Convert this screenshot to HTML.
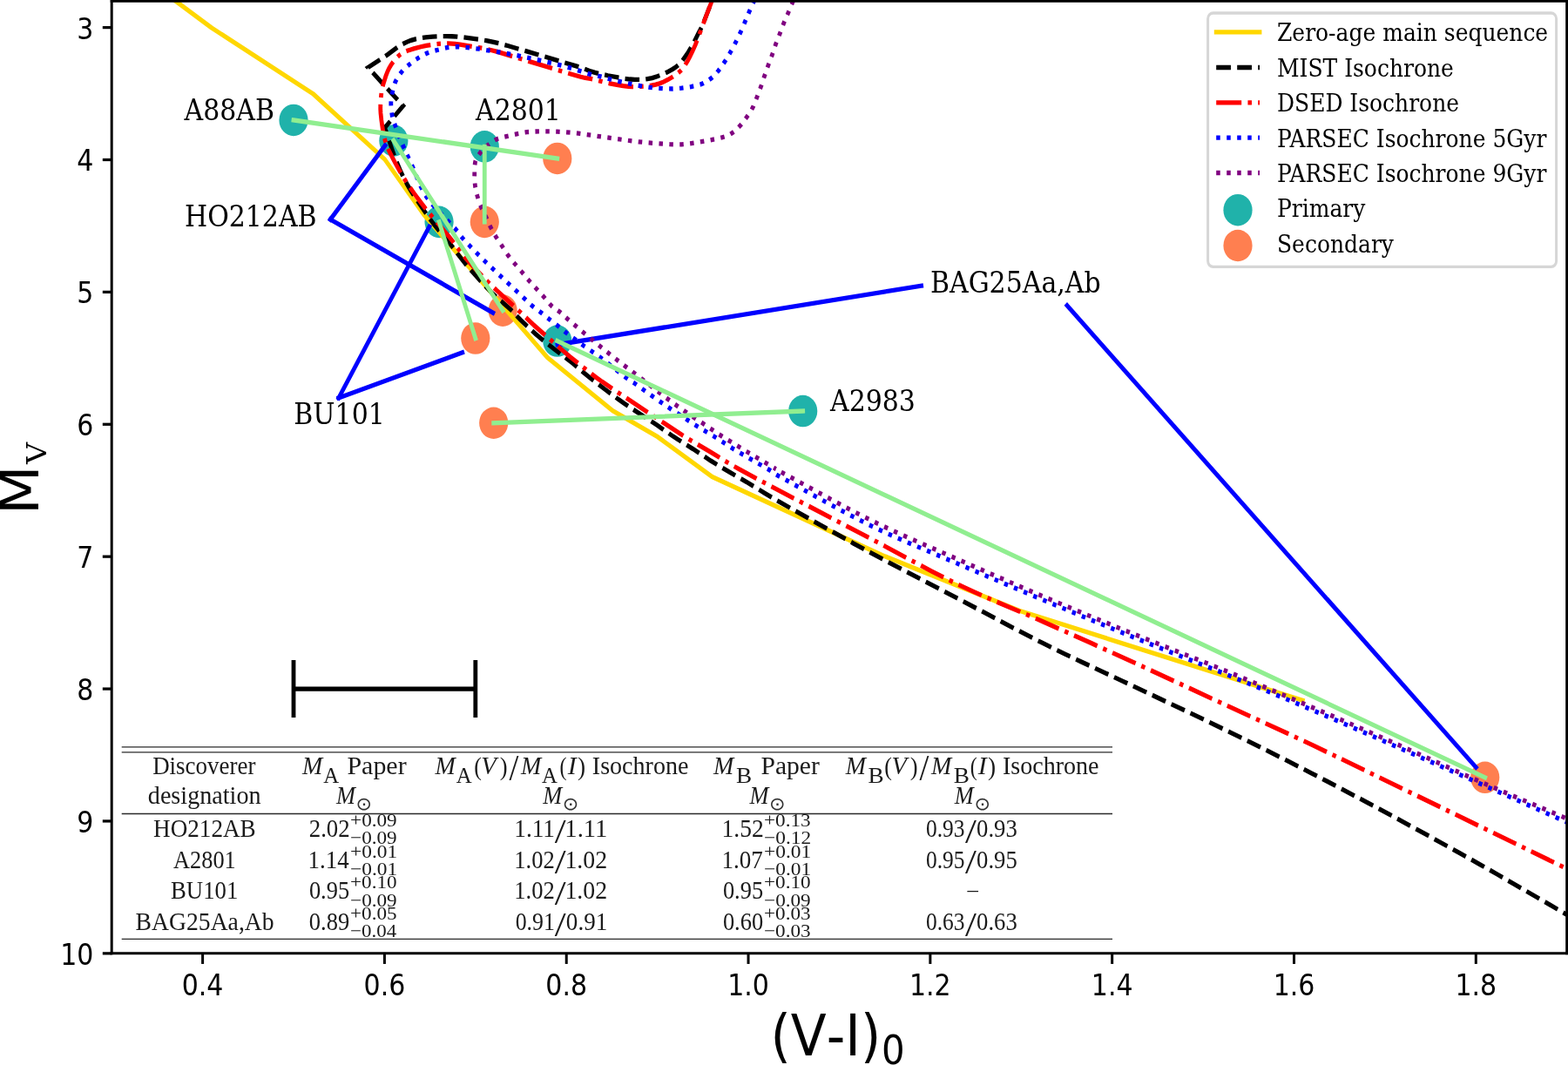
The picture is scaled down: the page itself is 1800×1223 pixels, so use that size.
<!DOCTYPE html>
<html lang="en"><head><meta charset="utf-8"><title>Colour-magnitude diagram</title>
<style>
html,body{margin:0;padding:0;background:#fff;}
body{width:1800px;height:1223px;overflow:hidden;}
svg{display:block;}
.tk{font-family:"DejaVu Sans","Liberation Sans",sans-serif;font-size:30px;fill:#000;}
.ax{font-family:"DejaVu Sans","Liberation Sans",sans-serif;fill:#000;}
.an{font-family:"DejaVu Serif","Liberation Serif",serif;font-size:30px;fill:#000;}
.lg{font-family:"DejaVu Serif","Liberation Serif",serif;font-size:25px;fill:#000;}
.tb{font-family:"Liberation Serif","DejaVu Serif",serif;fill:#1a1a1a;}
.tbs{font-family:"DejaVu Sans","Liberation Sans",sans-serif;fill:#333;}
.tbi{font-style:italic;}
</style></head><body>
<svg width="1800" height="1223" viewBox="0 0 1800 1223">
<rect width="1800" height="1223" fill="#fff"/>
<defs><clipPath id="axclip"><rect x="128.2" y="1.09" width="1670.5" height="994.23"/></clipPath></defs>
<g transform="scale(1,1.1)">

<g clip-path="url(#axclip)">
<circle cx="337.01" cy="125.37" r="16.6" fill="#20b2aa"/>
<circle cx="451.86" cy="146.77" r="16.6" fill="#20b2aa"/>
<circle cx="556.27" cy="152.99" r="16.6" fill="#20b2aa"/>
<circle cx="504.06" cy="231.7" r="16.6" fill="#20b2aa"/>
<circle cx="639.79" cy="355.97" r="16.6" fill="#20b2aa"/>
<circle cx="921.69" cy="429.16" r="16.6" fill="#20b2aa"/>
<circle cx="639.79" cy="165.41" r="16.6" fill="#ff7f50"/>
<circle cx="556.27" cy="231.7" r="16.6" fill="#ff7f50"/>
<circle cx="577.15" cy="324.21" r="16.6" fill="#ff7f50"/>
<circle cx="545.82" cy="353.21" r="16.6" fill="#ff7f50"/>
<circle cx="566.71" cy="441.59" r="16.6" fill="#ff7f50"/>
<circle cx="1704.73" cy="811.66" r="16.6" fill="#ff7f50"/>
<path d="M128,-50 L200,0 L243,29.09 L359,97.64 L441.7,166.36 L486.7,224.27 L628.5,373.27 L703.3,428.82 L755,456.09 L817.5,497.73 L1012.5,579.55 L1170,637.55 L1495.3,731.18" fill="none" stroke="#ffd700" stroke-width="4.8" stroke-linejoin="round" stroke-linecap="square"/>
</g>
<path d="M379.3,229.09 L442.09,151.86" stroke="#0000ff" stroke-width="4.8" stroke-linecap="square" fill="none"/>
<path d="M379.3,229.09 L565.87,326.53" stroke="#0000ff" stroke-width="4.8" stroke-linecap="square" fill="none"/>
<path d="M388.8,415.45 L492.79,236.62" stroke="#0000ff" stroke-width="4.8" stroke-linecap="square" fill="none"/>
<path d="M388.8,415.45 L530.72,368.03" stroke="#0000ff" stroke-width="4.8" stroke-linecap="square" fill="none"/>
<path d="M1057.63,298.35 L639.97,359.83" stroke="#0000ff" stroke-width="4.8" stroke-linecap="square" fill="none"/>
<path d="M1224.97,318.9 L1694.33,801.01" stroke="#0000ff" stroke-width="4.8" stroke-linecap="square" fill="none"/>
<g clip-path="url(#axclip)">
<g fill="none" stroke="#000" stroke-width="4.8" stroke-linejoin="miter">
<path d="M1820,965.91 L1795.59,953.23 L1718.78,912.73 L1700,903 L1675.23,890.34 L1641.24,873.2 L1607.15,856.25 L1569.64,837.86 L1536.6,821.89" stroke-dasharray="16.61 7.18" stroke-dashoffset="11.64"/>
<path d="M1536.6,821.89 L1505.36,807.06 L1476.36,793.57 L1445.45,779.44 L1410.91,763.94 L1387.27,753.48 L1361.82,742.44 L1289.09,711.22 L1241.82,691.11 L1223.64,683.25 L1209.09,676.82 L1196.43,671.1 L1182.14,664.48 L1166.07,656.87 L1103.57,626.71 L1039.29,596.23 L1012.5,583.38 L979.85,567.28 L938.1,546.2 L908.14,530.84 L889.62,521.19 L877.48,514.61 L856.7,503 L838.33,493.33 L828.61,488.08 L815.6,480.82 L795.6,468.73 L785.13,462.75" stroke-dasharray="16.62 7.19" stroke-dashoffset="20.22"/>
<path d="M785.13,462.75 L777.61,458.45 L772.76,455.55 L754.4,443.91 L725.08,426.41 L716.5,421.12 L709.9,416.88 L694.55,406.51 L676.7,393.91 L669.13,388.31 L657.52,379.3 L652.9,375.97 L646.02,371.23" stroke-dasharray="16.62 7.19" stroke-dashoffset="20.22"/>
<path d="M646.02,371.23 L636.2,364.45 L622.63,354.64 L615.25,348.95 L607.48,342.56 L597.48,333.86 L589.85,326.46 L586.7,323.64 L582.54,320.22 L569.67,310.06 L563.73,304.9 L555.44,297.04 L541,282.53 L535.86,277.09 L532.02,272.83 L528.19,268.33 L519.26,257.52 L515.41,253.09 L501.17,237.71 L496.27,231.96 L491.77,226.39 L478.73,209.06 L475.05,203.99 L471.51,198.88 L468.3,193.91 L465.31,188.9 L462.61,184.05 L460.08,179.12 L455.88,170.16 L452.76,162.83 L448.72,152.38 L441.7,133.36 L462.8,110.55 L422.5,70.45 L441.7,59.09 L444.89,57.04 L454.88,50.25 L458.26,48.13 L461.63,46.26 L466.8,43.95 L471.83,42.15 L477.02,40.77 L481.45,39.92" stroke-dasharray="16.53 7.15" stroke-dashoffset="20.09"/>
<path d="M481.45,39.92 L488.53,38.93 L496.45,38.31 L506.95,37.93 L512.99,37.88 L518.84,37.96 L524.89,38.29 L530.55,38.82 L550.94,41.3 L558.4,42.37 L566.7,43.91 L573.54,45.44 L582.83,47.76 L603.7,53.25 L662.3,69.2 L669.27,71.24 L678.07,74.46 L683.09,75.77 L688.28,76.95 L697.8,78.85 L709.31,80.84 L717.3,82.06 L723.1,82.73 L728.71,83.09 L734.41,83.12 L739.76,82.8 L743.23,82.39 L748.62,81.41 L754.38,79.81 L759.93,77.82 L766.94,74.86 L772.27,72.14 L775.44,70.21 L776.91,69.21 L779.76,66.99 L781.06,65.78 L783.36,63.28 L788.82,56.28 L790.96,53.24 L794.04,48.54 L797.08,43.44 L801.7,34.82 L804.73,29.71 L805.6,28.04 L808.01,22.81 L812.11,13.23 L817.62,0.04 L822,-10.91" stroke-dasharray="16.61 7.18" stroke-dashoffset="20.2"/>
</g>
<g fill="none" stroke="#ff0000" stroke-width="4.8" stroke-linejoin="miter">
<path d="M822,-10.91 L816.7,2.27 L810,18.18 L804.04,33.03 L800.46,41.67 L798.29,46.65 L794.95,53.48 L792.13,58.8 L789.24,63.73 L786.17,68.38 L784.14,71.07 L782.98,72.35 L781.63,73.64 L780,75 L777.2,77.05 L772.17,80.24 L766.77,83.19 L761.49,85.57 L758.01,86.85 L756.29,87.39 L752.73,88.3 L746.7,89.36 L739.4,90.15 L731.34,90.55 L725.27,90.53 L721.34,90.33 L715.4,89.71 L709.47,88.8 L700,87.09 L694.13,85.88 L680,82.55 L677.92,82.16 L671.77,81.35 L666.7,80.27 L655.17,77.23 L571.77,54.25 L564.5,52.5 L558.4,51.22 L552.76,50.19 L545.25,48.99" stroke-dasharray="28.74 7.18 4.49 7.18" stroke-dashoffset="37.7"/>
<path d="M545.25,48.99 L528.13,46.45 L522.36,45.8 L518.57,45.53 L514.69,45.41 L508.78,45.49 L502.96,45.86 L497.18,46.47 L489.29,47.65 L483.04,48.89 L475.06,50.81 L471.56,51.79 L467.63,53.04 L463.8,54.47 L462.17,55.24 L460.63,56.11 L459.1,57.13 L457.5,58.36 L454.91,60.68 L453.62,61.99 L451.13,64.85 L448.79,67.94 L446.7,71.18 L445.03,74.35 L442.83,79.59 L440.48,86.41 L438.92,91.52 L438.21,94.64 L437.95,96.24 L437.19,103.1 L436.8,108.14 L436.74,113.87 L437,118.18 L437.86,125.58 L439.16,133.93 L440.79,141.96 L442.35,147.61 L443.71,151.39 L444.44,153.09 L446.02,156.36 L450.81,165.09 L453.52,169.79 L458.68,178.24 L462.95,184.86 L467.31,191.21 L470.77,195.9 L475.38,201.82 L481.23,209.06 L488.28,217.41 L497.43,227.67 L511.48,242.71 L516.7,248.45 L520.88,253.32 L529.57,263.92 L534.68,269.68 L541.54,276.69 L552.71,287.39 L561.06,295.11 L569.68,302.74 L589.8,319.45 L606.7,334 L611.69,338.4 L614.8,341 L646.84,366.63 L654.27,372.36 L683.76,393.61 L691.23,398.51 L704.9,406.99 L753.04,436.15 L783.76,454.48 L794.53,460.59 L815.33,471.68 L834.4,482.36 L841.85,486.34 L848.31,489.66 L875.18,502.87 L912.95,521.02 L1005.36,565.11 L1051.79,587.78 L1069.64,596.37 L1082.14,602.23 L1094.64,607.91 L1105.56,612.68 L1118.52,618.1 L1138.89,626.25 L1179.63,641.96 L1198.15,649.26 L1252.73,671.42 L1307.27,693.93 L1401.82,733.76 L1480,766.48 L1507.27,778.13 L1536.76,790.99" stroke-dasharray="28.75 7.19 4.49 7.19" stroke-dashoffset="44.02"/>
<path d="M1536.76,790.99 L1634.81,834.29 L1820,916.36" stroke-dasharray="28.74 7.18 4.49 7.18" stroke-dashoffset="44"/>
</g>
<g fill="none" stroke="#0000ff" stroke-width="4.8" stroke-linejoin="miter">
<path d="M871,-10.91 L865.72,0.73 L860.5,11.36 L852,29.85 L847.56,38.66 L842.76,47.33 L837.78,55.56 L832.99,62.94 L828.46,69.23 L824.7,73.82 L820.7,78.05 L817.83,80.63 L816.3,81.82 L812.97,84.01 L811.2,85.02 L807.59,86.8 L804.04,88.17 L800.53,89.11 L793.3,90.49 L787.95,91.34 L782.5,92 L776.11,92.62 L772.35,92.74 L763.04,92.52 L752.79,91.93 L746.7,91.36 L738.9,90.32 L729.15,88.64 L717.2,86.33 L700,82.55 L688.3,79.55 L679.32,77.91 L673.75,76.46 L657.01,71.46 L649.39,69.48 L641.54,67.68 L624.54,63.99 L610.22,61.01 L590.92,57.4 L575.18,54.82 L550,51.09 L530.94,49.15" stroke-dasharray="4.49 7.41" stroke-dashoffset="0.59"/>
<path d="M530.94,49.15 L526.93,48.86 L523.05,48.85 L519.14,49.06 L513.3,49.73 L507.45,50.87 L496.2,53.6 L492.6,54.63 L489.24,55.91 L486.08,57.37 L481.46,59.82 L476.81,62.53 L473.8,64.49 L469.26,67.78 L466.14,70.17 L463.12,72.81 L460.51,75.62 L458.17,78.55 L456.02,81.66 L454.2,84.82 L453.34,86.66 L451.99,90.45 L450.96,94.28 L450.07,98.07 L449.34,101.81 L448.89,105.6 L448.8,107.55 L448.87,111.01 L449.19,114.58 L450,119.73 L450.76,123.02 L451.74,126.14 L455.84,136.61 L460.8,148.03 L465.4,157.73 L474.04,174.96 L479.94,188.32 L482.47,193.68 L485.36,199.07 L487.55,202.61 L490,206.09 L493.64,210.51 L497.96,215.16 L502.7,219.89 L518.09,234.33 L522.5,238.64 L526.37,242.9 L529.34,246.89 L532.98,250.66 L544.05,261.24 L555.72,271.89 L572.18,286.27 L610.54,319.02 L613.36,321.14 L621.2,326.36 L630.9,333.45 L635.45,336.65" stroke-dasharray="4.48 7.4" stroke-dashoffset="8.18"/>
<path d="M635.45,336.65 L640.3,340.09 L648.08,346.08 L655.84,351.48 L669.8,360.82 L684.24,369.88 L691.32,374.62 L718.9,394.45 L723.34,397.32 L727.06,399.3 L729.1,400.55 L747.21,412.54 L763.83,423.15" stroke-dasharray="4.5 7.42" stroke-dashoffset="8.21"/>
<path d="M763.83,423.15 L780.43,433.24 L796.36,442.69 L804.94,447.58 L820.6,456.09 L841.1,468.18 L853.08,474.7 L882.8,490.36 L885.16,491.76 L886.47,492.82 L887.35,493.39 L891.32,495.58 L938.98,519.65 L966.99,533.48 L979.07,539.28 L990.77,544.74 L1000,548.91 L1011.11,553.73 L1027.78,560.64 L1046.3,567.98 L1090.74,585.04 L1155.56,610.24 L1198.15,626.57 L1248.15,645.49 L1294.44,662.76 L1320.37,672.28 L1392.59,698.45 L1433.33,713.54 L1464.81,725.32 L1494.44,736.59 L1520.37,746.64 L1550,758.34 L1594.59,776.12" stroke-dasharray="4.49 7.41" stroke-dashoffset="8.2"/>
<path d="M1594.59,776.12 L1651.96,799.1 L1798.3,858.18 L1820,866.82" stroke-dasharray="4.49 7.41" stroke-dashoffset="8.19"/>
</g>
<g fill="none" stroke="#800080" stroke-width="4.8" stroke-linejoin="miter">
<path d="M916,-10.91 L904.7,13.64 L900.52,22.46 L899.01,25.87 L895,35.64 L890.5,46.18 L886.3,57.55 L880.98,70.46 L877.5,79.55 L873.92,89.31 L871.84,94.57 L866.76,106.66 L864.59,111.43 L862.84,114.54 L859.76,119.04 L855.05,125.09 L851.08,129.67 L846.89,133.83 L843.95,136.4 L842.41,137.57 L840.8,138.64 L837.8,140.37 L834.6,141.78 L832.55,142.46 L828.5,143.57 L821.22,145.15 L810.78,147.06 L797.42,149.16 L789.91,150.13 L782.5,150.73 L776.63,150.83 L768.93,150.57 L753.66,149.67 L742.41,148.84 L733.03,147.99 L725.23,147.12 L707.67,144.95 L665.84,139.52 L655.34,138.36 L647.61,137.78 L639.82,137.37 L632.07,137.14 L622.64,137.08" stroke-dasharray="4.49 7.41" stroke-dashoffset="11.14"/>
<path d="M622.64,137.08 L612.64,137.32 L606.91,137.72 L603.07,138.14 L599.08,138.74 L593.08,139.84 L576.31,143.45 L573.1,144.32 L571.57,144.84 L568.17,146.3 L564.74,148.24 L560,151.55 L557.02,153.9 L554.23,156.41 L552.92,157.73 L550.52,160.46 L548.3,163.21 L547.32,164.7 L546.48,166.34 L545.8,168.18 L545.42,169.75 L544.96,173.35 L544.78,177.2 L544.68,184.52 L544.88,189.7 L545.61,195.06 L546.41,198.93 L548,204.82 L549.12,208.22 L551.07,213.34 L553.27,218.22 L558.3,227.27 L562.42,235.8 L565.16,240.67 L569.2,247 L576.3,256.82 L581.23,263.88 L583.3,266.64 L585.52,269.31 L588.99,273.2 L599.2,284.09 L607.2,292.91 L612.1,297.88 L624.2,309.82 L629.11,315.27 L631.62,317.91 L632.9,319.09 L634.43,320.31 L642.3,325.45 L645.31,327.84 L651.3,332.82 L655.99,336.46" stroke-dasharray="4.49 7.4" stroke-dashoffset="8.18"/>
<path d="M655.99,336.46 L671.38,348.43 L703.55,372.36 L762.47,413.72 L772.29,420.43 L781.68,426.62" stroke-dasharray="4.49 7.41" stroke-dashoffset="8.2"/>
<path d="M781.68,426.62 L790.03,431.89 L806.7,441.91 L824.04,452.65 L830.62,456.54 L859.17,472.48 L889.4,488.91 L890.7,489.64 L889.73,489.28 L890.21,489.54 L905.62,497.15 L948.41,518.54 L972.9,530.52 L984.93,536.24 L996.37,541.54 L1007.27,546.41 L1018.18,551.12 L1032.73,557.21 L1047.27,563.12 L1092.73,581.18 L1133.33,597.44 L1170.37,612.09 L1203.7,625.07 L1246.3,641.3 L1294.44,659.3 L1320.37,668.83 L1387.04,692.93 L1407.41,700.49 L1433.33,710.27 L1474.07,725.87 L1518.52,743.13 L1559.26,759.18 L1601.16,775.92" stroke-dasharray="4.5 7.43" stroke-dashoffset="8.23"/>
<path d="M1601.16,775.92 L1623.71,785.1 L1676.59,806.9 L1701.9,817.12 L1732.4,829.07 L1793.01,852.39 L1820,862.91" stroke-dasharray="4.49 7.41" stroke-dashoffset="8.19"/>
</g>
<path d="M337.01,719.14 L545.82,719.14 M337.01,689.14 L337.01,749.14 M545.82,689.14 L545.82,749.14" stroke="#000" stroke-width="4.8" fill="none"/>
<path d="M337.01,125.37 L639.79,165.41" stroke="#90ee90" stroke-width="4.8" stroke-linecap="square" fill="none"/>
<path d="M556.27,152.99 L556.27,231.7" stroke="#90ee90" stroke-width="4.8" stroke-linecap="square" fill="none"/>
<path d="M451.86,146.77 L577.15,324.21" stroke="#90ee90" stroke-width="4.8" stroke-linecap="square" fill="none"/>
<path d="M504.06,231.7 L545.82,353.21" stroke="#90ee90" stroke-width="4.8" stroke-linecap="square" fill="none"/>
<path d="M639.79,355.97 L1704.73,811.66" stroke="#90ee90" stroke-width="4.8" stroke-linecap="square" fill="none"/>
<path d="M921.69,429.16 L566.71,441.59" stroke="#90ee90" stroke-width="4.8" stroke-linecap="square" fill="none"/>
</g>
<path d="M128.2,-0.27 V996.68 M1798.7,-0.27 V996.68" stroke="#000" stroke-width="3.0" fill="none"/>
<path d="M126.7,1.09 H1800.2 M126.7,995.32 H1800.2" stroke="#000" stroke-width="2.73" fill="none"/>
<path d="M232.61,995.32 v11.0" stroke="#000" stroke-width="3"/>
<text class="tk" x="232.61" y="1039.36" text-anchor="middle">0.4</text>
<path d="M441.42,995.32 v11.0" stroke="#000" stroke-width="3"/>
<text class="tk" x="441.42" y="1039.36" text-anchor="middle">0.6</text>
<path d="M650.23,995.32 v11.0" stroke="#000" stroke-width="3"/>
<text class="tk" x="650.23" y="1039.36" text-anchor="middle">0.8</text>
<path d="M859.04,995.32 v11.0" stroke="#000" stroke-width="3"/>
<text class="tk" x="859.04" y="1039.36" text-anchor="middle">1.0</text>
<path d="M1067.86,995.32 v11.0" stroke="#000" stroke-width="3"/>
<text class="tk" x="1067.86" y="1039.36" text-anchor="middle">1.2</text>
<path d="M1276.67,995.32 v11.0" stroke="#000" stroke-width="3"/>
<text class="tk" x="1276.67" y="1039.36" text-anchor="middle">1.4</text>
<path d="M1485.48,995.32 v11.0" stroke="#000" stroke-width="3"/>
<text class="tk" x="1485.48" y="1039.36" text-anchor="middle">1.6</text>
<path d="M1694.29,995.32 v11.0" stroke="#000" stroke-width="3"/>
<text class="tk" x="1694.29" y="1039.36" text-anchor="middle">1.8</text>
<path d="M128.2,28.71 h-10.4" stroke="#000" stroke-width="2.95"/>
<text class="tk" x="107.4" y="40.51" text-anchor="end">3</text>
<path d="M128.2,166.8 h-10.4" stroke="#000" stroke-width="2.95"/>
<text class="tk" x="107.4" y="178.6" text-anchor="end">4</text>
<path d="M128.2,304.88 h-10.4" stroke="#000" stroke-width="2.95"/>
<text class="tk" x="107.4" y="316.68" text-anchor="end">5</text>
<path d="M128.2,442.97 h-10.4" stroke="#000" stroke-width="2.95"/>
<text class="tk" x="107.4" y="454.77" text-anchor="end">6</text>
<path d="M128.2,581.06 h-10.4" stroke="#000" stroke-width="2.95"/>
<text class="tk" x="107.4" y="592.86" text-anchor="end">7</text>
<path d="M128.2,719.14 h-10.4" stroke="#000" stroke-width="2.95"/>
<text class="tk" x="107.4" y="730.94" text-anchor="end">8</text>
<path d="M128.2,857.23 h-10.4" stroke="#000" stroke-width="2.95"/>
<text class="tk" x="107.4" y="869.03" text-anchor="end">9</text>
<path d="M128.2,995.32 h-10.4" stroke="#000" stroke-width="2.95"/>
<text class="tk" x="107.4" y="1007.12" text-anchor="end">10</text>
<text class="ax" x="884.5" y="1101.59" font-size="59.8" style="font-kerning:none">(V-I)<tspan font-size="41.9" dx="0.6" dy="9.3">0</tspan></text>
<text class="ax" transform="translate(43.9,537.55) rotate(-90)" font-size="60">M</text>
<text class="an" transform="translate(53.2,484.64) rotate(-90)" style="font-size:31.5px">V</text>
<text class="an" x="211.5" y="125.18">A88AB</text>
<text class="an" x="546" y="125.45">A2801</text>
<text class="an" x="212" y="236">HO212AB</text>
<text class="an" x="337.3" y="443.09">BU101</text>
<text class="an" x="1068" y="305.09">BAG25Aa,Ab</text>
<text class="an" x="953.0" y="428.91">A2983</text>
<rect x="1386.6" y="13.64" width="400" height="264.91" rx="6" ry="6" fill="#fff" fill-opacity="0.8" stroke="#cccccc" stroke-opacity="0.8" stroke-width="3"/>
<path d="M1396.2,33.55 L1446.0,33.55" stroke="#ffd700" stroke-width="4.8" fill="none" stroke-linecap="square"/>
<path d="M1396.2,70.45 L1446.0,70.45" stroke="#000" stroke-width="4.8" fill="none" stroke-dasharray="16.76 7.25"/>
<path d="M1396.2,107.18 L1446.0,107.18" stroke="#ff0000" stroke-width="4.8" fill="none" stroke-dasharray="28.99 7.25 4.53 7.25"/>
<path d="M1396.2,143.82 L1446.0,143.82" stroke="#0000ff" stroke-width="4.8" fill="none" stroke-dasharray="4.53 7.47"/>
<path d="M1396.2,180.45 L1446.0,180.45" stroke="#800080" stroke-width="4.8" fill="none" stroke-dasharray="4.53 7.47"/>
<circle cx="1421" cy="219.27" r="16.6" fill="#20b2aa"/>
<circle cx="1421" cy="256.36" r="16.6" fill="#ff7f50"/>
<text class="lg" x="1466" y="43.09">Zero-age main sequence</text>
<text class="lg" x="1466" y="79.82">MIST Isochrone</text>
<text class="lg" x="1466" y="116.55">DSED Isochrone</text>
<text class="lg" x="1466" y="153.45">PARSEC Isochrone 5Gyr</text>
<text class="lg" x="1466" y="190.18">PARSEC Isochrone 9Gyr</text>
<text class="lg" x="1466" y="226.27">Primary</text>
<text class="lg" x="1466" y="263.55">Secondary</text>
</g>
<path d="M139.7,857.9 H1277" stroke="#2a2a2a" stroke-width="1.3" fill="none"/>
<path d="M139.7,863.9 H1277" stroke="#2a2a2a" stroke-width="1.3" fill="none"/>
<path d="M139.7,934.5 H1277" stroke="#2a2a2a" stroke-width="1.3" fill="none"/>
<path d="M139.7,1078.4 H1277" stroke="#2a2a2a" stroke-width="1.3" fill="none"/>
<text class="tb" font-size="26.5" transform="translate(175.13,889.2) scale(1.0184,1.1000)">Discoverer</text>
<text class="tb" font-size="26.5" transform="translate(169.81,923.3) scale(1.0625,1.1000)">designation</text>
<text class="tb" font-size="26.5" transform="translate(176.02,960.9) scale(1.0254,1.1000)">HO212AB</text>
<text class="tb" font-size="26.5" transform="translate(199.07,996.7) scale(0.9941,1.1000)">A2801</text>
<text class="tb" font-size="26.5" transform="translate(196.03,1032.3) scale(1.0093,1.1000)">BU101</text>
<text class="tb" font-size="26.5" transform="translate(155.61,1068) scale(1.0440,1.1000)">BAG25Aa,Ab</text>
<text class="tb tbi" font-size="26.5" transform="translate(347.12,889.2) scale(1.0541,1.1000)">M</text>
<text class="tb" font-size="22.5" transform="translate(371.18,899.2) scale(1.1017,1.1000)">A</text>
<text class="tb" font-size="26.5" transform="translate(398.45,889.2) scale(1.1301,1.1000)">Paper</text>
<text class="tb tbi" font-size="26.5" transform="translate(386,923.3) scale(0.9950,1.1000)">M</text>
<text class="tb tbs" font-size="19" transform="translate(408.61,929.89) scale(1.1643,1.0845)">⊙</text>
<text class="tb tbi" font-size="26.5" transform="translate(819.12,889.2) scale(1.0541,1.1000)">M</text>
<text class="tb" font-size="22.5" transform="translate(844.92,899.2) scale(1.2101,1.1000)">B</text>
<text class="tb" font-size="26.5" transform="translate(873.46,889.2) scale(1.1167,1.1000)">Paper</text>
<text class="tb tbi" font-size="26.5" transform="translate(860.4,923.3) scale(0.9950,1.1000)">M</text>
<text class="tb tbs" font-size="19" transform="translate(883.01,929.89) scale(1.1643,1.0845)">⊙</text>
<text class="tb tbi" font-size="26.5" transform="translate(499.62,889.2) scale(1.0541,1.1000)">M</text>
<text class="tb" font-size="22.5" transform="translate(523.68,899.2) scale(1.1017,1.1000)">A</text>
<text class="tb" font-size="26.5" transform="translate(544.16,889.68) scale(0.9826,1.1445)">(</text>
<text class="tb tbi" font-size="26.5" transform="translate(552.36,889.2) scale(1.0863,1.1000)">V</text>
<text class="tb" font-size="26.5" transform="translate(573.7,889.68) scale(1.0015,1.1445)">)</text>
<text class="tb" font-size="26.5" transform="translate(584.5,895.79) scale(1.4825,1.5545)">/</text>
<text class="tb tbi" font-size="26.5" transform="translate(597.92,889.2) scale(1.0541,1.1000)">M</text>
<text class="tb" font-size="22.5" transform="translate(621.98,899.2) scale(1.1017,1.1000)">A</text>
<text class="tb" font-size="26.5" transform="translate(642.53,889.68) scale(0.9114,1.1445)">(</text>
<text class="tb tbi" font-size="26.5" transform="translate(651.65,889.2) scale(1.1321,1.1000)">I</text>
<text class="tb" font-size="26.5" transform="translate(662.88,889.68) scale(1.0305,1.1445)">)</text>
<text class="tb" font-size="26.5" transform="translate(679.82,889.2) scale(1.0588,1.1000)">Isochrone</text>
<text class="tb tbi" font-size="26.5" transform="translate(623.2,923.3) scale(0.9950,1.1000)">M</text>
<text class="tb tbs" font-size="19" transform="translate(645.81,929.89) scale(1.1643,1.0845)">⊙</text>
<text class="tb tbi" font-size="26.5" transform="translate(970.72,889.2) scale(1.0541,1.1000)">M</text>
<text class="tb" font-size="22.5" transform="translate(996.52,899.2) scale(1.2101,1.1000)">B</text>
<text class="tb" font-size="26.5" transform="translate(1015.26,889.68) scale(0.9826,1.1445)">(</text>
<text class="tb tbi" font-size="26.5" transform="translate(1023.46,889.2) scale(1.0863,1.1000)">V</text>
<text class="tb" font-size="26.5" transform="translate(1044.8,889.68) scale(1.0015,1.1445)">)</text>
<text class="tb" font-size="26.5" transform="translate(1055.6,895.79) scale(1.4825,1.5545)">/</text>
<text class="tb tbi" font-size="26.5" transform="translate(1069.02,889.2) scale(1.0541,1.1000)">M</text>
<text class="tb" font-size="22.5" transform="translate(1094.82,899.2) scale(1.2101,1.1000)">B</text>
<text class="tb" font-size="26.5" transform="translate(1113.63,889.68) scale(0.9114,1.1445)">(</text>
<text class="tb tbi" font-size="26.5" transform="translate(1122.75,889.2) scale(1.1321,1.1000)">I</text>
<text class="tb" font-size="26.5" transform="translate(1133.98,889.68) scale(1.0305,1.1445)">)</text>
<text class="tb" font-size="26.5" transform="translate(1150.92,889.2) scale(1.0588,1.1000)">Isochrone</text>
<text class="tb tbi" font-size="26.5" transform="translate(1095.8,923.3) scale(0.9950,1.1000)">M</text>
<text class="tb tbs" font-size="19" transform="translate(1118.41,929.89) scale(1.1643,1.0845)">⊙</text>
<text class="tb" font-size="26.5" transform="translate(354.73,960.9) scale(1.0124,1.1000)">2.02</text>
<text class="tb" font-size="19.2" transform="translate(402.06,949) scale(1.2081,1.1000)">+0.09</text>
<text class="tb" font-size="19.2" transform="translate(402.06,969.3) scale(1.2081,1.1000)">−0.09</text>
<text class="tb" font-size="26.5" transform="translate(828.46,960.9) scale(1.0407,1.1000)">1.52</text>
<text class="tb" font-size="19.2" transform="translate(877.06,949) scale(1.2053,1.1000)">+0.13</text>
<text class="tb" font-size="19.2" transform="translate(877.05,969.3) scale(1.2162,1.1000)">−0.12</text>
<text class="tb" font-size="26.5" transform="translate(590.28,960.9) scale(1.0301,1.1000)">1.11</text>
<text class="tb" font-size="26.5" transform="translate(636.8,967.5) scale(1.7520,1.4982)">/</text>
<text class="tb" font-size="26.5" transform="translate(648.37,960.9) scale(1.0782,1.1000)">1.11</text>
<text class="tb" font-size="26.5" transform="translate(1062.91,960.9) scale(0.9614,1.1000)">0.93</text>
<text class="tb" font-size="26.5" transform="translate(1108,967.5) scale(1.7520,1.4982)">/</text>
<text class="tb" font-size="26.5" transform="translate(1121.07,960.9) scale(1.0063,1.1000)">0.93</text>
<text class="tb" font-size="26.5" transform="translate(353.51,996.7) scale(1.0154,1.1000)">1.14</text>
<text class="tb" font-size="19.2" transform="translate(402.05,984.8) scale(1.2190,1.1000)">+0.01</text>
<text class="tb" font-size="19.2" transform="translate(402.05,1005.1) scale(1.2190,1.1000)">−0.01</text>
<text class="tb" font-size="26.5" transform="translate(828.5,996.7) scale(1.0216,1.1000)">1.07</text>
<text class="tb" font-size="19.2" transform="translate(877.05,984.8) scale(1.2190,1.1000)">+0.01</text>
<text class="tb" font-size="19.2" transform="translate(877.05,1005.1) scale(1.2190,1.1000)">−0.01</text>
<text class="tb" font-size="26.5" transform="translate(590.34,996.7) scale(1.0032,1.1000)">1.02</text>
<text class="tb" font-size="26.5" transform="translate(636.8,1003.3) scale(1.7520,1.4982)">/</text>
<text class="tb" font-size="26.5" transform="translate(648.43,996.7) scale(1.0500,1.1000)">1.02</text>
<text class="tb" font-size="26.5" transform="translate(1062.91,996.7) scale(0.9614,1.1000)">0.95</text>
<text class="tb" font-size="26.5" transform="translate(1108,1003.3) scale(1.7520,1.4982)">/</text>
<text class="tb" font-size="26.5" transform="translate(1121.07,996.7) scale(1.0063,1.1000)">0.95</text>
<text class="tb" font-size="26.5" transform="translate(354.88,1032.3) scale(0.9973,1.1000)">0.95</text>
<text class="tb" font-size="19.2" transform="translate(402.06,1020.4) scale(1.2053,1.1000)">+0.10</text>
<text class="tb" font-size="19.2" transform="translate(402.06,1040.7) scale(1.2081,1.1000)">−0.09</text>
<text class="tb" font-size="26.5" transform="translate(829.88,1032.3) scale(0.9973,1.1000)">0.95</text>
<text class="tb" font-size="19.2" transform="translate(877.06,1020.4) scale(1.2053,1.1000)">+0.10</text>
<text class="tb" font-size="19.2" transform="translate(877.06,1040.7) scale(1.2081,1.1000)">−0.09</text>
<text class="tb" font-size="26.5" transform="translate(590.34,1032.3) scale(1.0032,1.1000)">1.02</text>
<text class="tb" font-size="26.5" transform="translate(636.8,1038.9) scale(1.7520,1.4982)">/</text>
<text class="tb" font-size="26.5" transform="translate(648.43,1032.3) scale(1.0500,1.1000)">1.02</text>
<text class="tb" font-size="26.5" transform="translate(1110.55,1030.36) scale(0.9361,0.9811)">–</text>
<text class="tb" font-size="26.5" transform="translate(354.87,1068) scale(1.0003,1.1000)">0.89</text>
<text class="tb" font-size="19.2" transform="translate(402.06,1056.1) scale(1.2053,1.1000)">+0.05</text>
<text class="tb" font-size="19.2" transform="translate(402.07,1076.4) scale(1.1947,1.1000)">−0.04</text>
<text class="tb" font-size="26.5" transform="translate(829.88,1068) scale(0.9973,1.1000)">0.60</text>
<text class="tb" font-size="19.2" transform="translate(877.06,1056.1) scale(1.2053,1.1000)">+0.03</text>
<text class="tb" font-size="19.2" transform="translate(877.06,1076.4) scale(1.2053,1.1000)">−0.03</text>
<text class="tb" font-size="26.5" transform="translate(591.69,1068) scale(0.9759,1.1000)">0.91</text>
<text class="tb" font-size="26.5" transform="translate(636.8,1074.6) scale(1.7520,1.4982)">/</text>
<text class="tb" font-size="26.5" transform="translate(649.85,1068) scale(1.0215,1.1000)">0.91</text>
<text class="tb" font-size="26.5" transform="translate(1062.91,1068) scale(0.9614,1.1000)">0.63</text>
<text class="tb" font-size="26.5" transform="translate(1108,1074.6) scale(1.7520,1.4982)">/</text>
<text class="tb" font-size="26.5" transform="translate(1121.07,1068) scale(1.0063,1.1000)">0.63</text>
</svg>
</body></html>
